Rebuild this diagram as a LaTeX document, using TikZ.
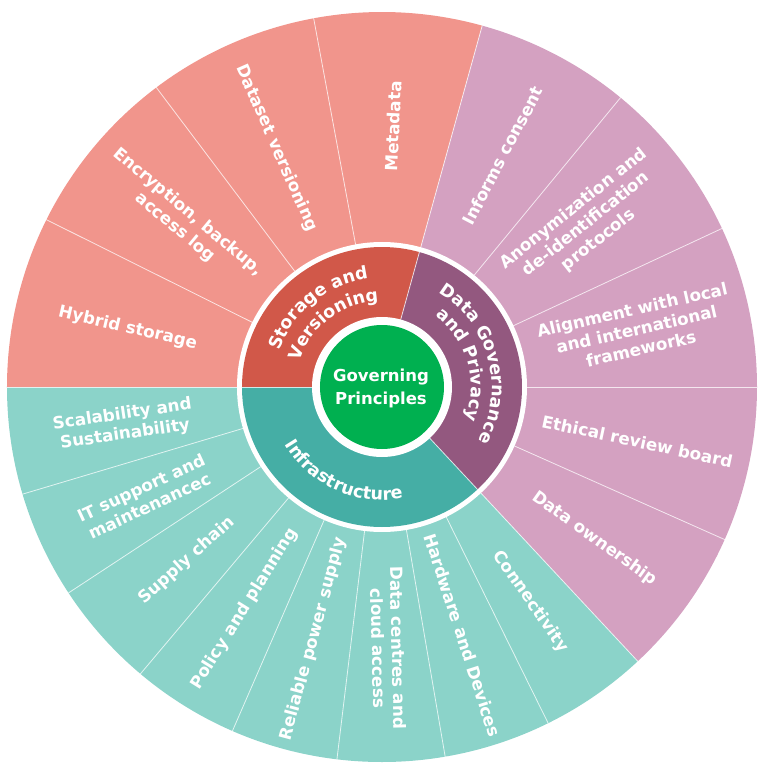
\documentclass[tikz,border=0pt]{standalone}
\usepackage{fontspec}
\setmainfont{DejaVu Sans}
\usetikzlibrary{decorations.text}
\definecolor{storeleaf}{RGB}{241,149,140}
\definecolor{storemid}{RGB}{209,88,73}
\definecolor{govleaf}{RGB}{212,161,193}
\definecolor{govmid}{RGB}{147,88,127}
\definecolor{infraleaf}{RGB}{139,211,201}
\definecolor{inframid}{RGB}{69,174,165}
\definecolor{coregreen}{RGB}{0,176,80}

\begin{document}
\begin{tikzpicture}[x=1pt,y=1pt,line cap=round,
  leaf/.style={text=white,font=\bfseries\fontsize{16.8}{20}\selectfont,align=center,inner sep=0pt},
  seam/.style={white,opacity=0.75,line width=0.8pt},
  arctext/.style={decorate,decoration={text along path,text align=center,text color=white,
    text={|\bfseries\fontsize{17.5}{20}\selectfont|#1}}}]
  \useasboundingbox (-382,-387) rectangle (386,387);
  % outer ring, then the gap, then the three groups
  \foreach \a/\b/\c in {74.5/180/storeleaf,-47/74.5/govleaf,180/313/infraleaf}{
    \fill[\c] (0,0) -- (\a:375) arc[start angle=\a,end angle=\b,radius=375] -- cycle;
  }
  \fill[white] (0,0) circle (145);
  \foreach \a/\b/\c in {74.5/180/storemid,-47/74.5/govmid,180/313/inframid}{
    \fill[\c] (0,0) -- (\a:140) arc[start angle=\a,end angle=\b,radius=140] -- cycle;
  }
  \fill[white] (0,0) circle (70);
  \fill[coregreen] (0,0) circle (62);
  \foreach \t in {180,153.5,127,100.5,74.5,50.5,25,0,-24,-47,196.6,213.3,229.9,246.5,263.1,279.7,296.3}
    \draw[seam] (\t:145) -- (\t:375);
  \foreach \t in {180,74.5,-47}
    \draw[seam] (\t:70) -- (\t:140);

  \node[text=white,font=\bfseries\fontsize{16.5}{23}\selectfont,align=center] (core) at (-1,-1) {Governing\\Principles};

  % group names bent round the middle ring
  \path[arctext=Storage and] (168.8:109) arc[start angle=168.8,end angle=88.8,radius=109];
  \path[arctext=Versioning] (167.5:86) arc[start angle=167.5,end angle=87.5,radius=86];
  \path[arctext=Data Governance] (74.85:110) arc[start angle=74.85,end angle=-45.15,radius=110];
  \path[arctext=and Privacy] (75.9:89) arc[start angle=75.9,end angle=-44.1,radius=89];
  \path[arctext=Infrastructure] (185.7:113) arc[start angle=185.7,end angle=305.7,radius=113];

  % leaves: name/angle/text, turned so no text stands on its head
  \foreach \n/\t/\s in {hybrid/167/{Hybrid storage},
      encrypt/140.2/{Encryption, backup,\\access log},
      dataset/113.8/{Dataset versioning},
      metadata/87.5/{Metadata},
      consent/62.5/{Informs consent},
      anonym/38.5/{Anonymization and\\de-identification\\protocols},
      alignment/12.8/{Alignment with local\\and international\\frameworks},
      ethics/-12/{Ethical review board},
      owner/-35.5/{Data ownership},
      scale/188.3/{Scalability and\\Sustainability},
      itsupport/204.9/{IT support and\\maintenancec},
      supply/221.6/{Supply chain},
      policy/238.2/{Policy and planning},
      power/254.8/{Reliable power supply},
      datacentre/271.4/{Data centres and\\cloud access},
      hardware/288/{Hardware and Devices},
      connect/304.65/{Connectivity}}{
    \pgfmathsetmacro{\rot}{(\t>90 && \t<270) ? \t-180 : \t}
    \node[leaf,rotate=\rot] (\n) at (\t:261) {\s};
  }
\end{tikzpicture}
\end{document}
